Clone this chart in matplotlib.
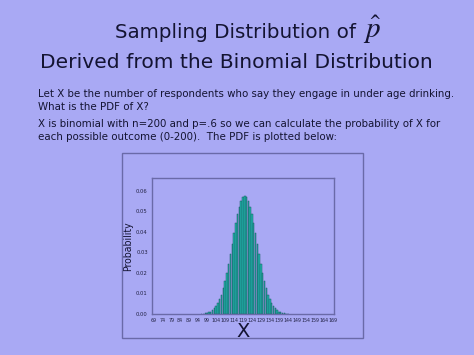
import matplotlib
matplotlib.use("Agg")
import matplotlib.pyplot as plt
from matplotlib.patches import Rectangle

plt.rcParams["mathtext.fontset"] = "stix"

# Data: P(X = x) for X ~ Binomial(200, 0.6)
x_start = 96
probs = [0.0001, 0.0002, 0.0003, 0.0005, 0.0008, 0.0012, 0.0018, 0.0027, 0.0037,
         0.0052, 0.0071, 0.0095, 0.0125, 0.0159, 0.0199, 0.0244, 0.0292, 0.0343,
         0.0394, 0.0443, 0.0487, 0.0524, 0.0552, 0.0569, 0.0575, 0.0569, 0.0552,
         0.0524, 0.0487, 0.0443, 0.0394, 0.0343, 0.0292, 0.0244, 0.0199, 0.0159,
         0.0125, 0.0095, 0.0071, 0.0052, 0.0037, 0.0027, 0.0018, 0.0012, 0.0008,
         0.0005, 0.0003, 0.0002, 0.0001]
xs = list(range(x_start, x_start + len(probs)))
xtick_labels = list(range(69, 170, 5))
ytick_values = [0.00, 0.01, 0.02, 0.03, 0.04, 0.05, 0.06]

bg = "#a9a9f4"
text_col = "#141432"

W, H = 474, 355
fig = plt.figure(figsize=(W / 100, H / 100), dpi=100)
fig.patch.set_facecolor(bg)

def fx(px):
    return px / W

def fy(py):
    return 1 - py / H

# Titles
fig.text(fx(115), fy(38), "Sampling Distribution of", fontsize=14.3,
         color=text_col, ha="left", va="baseline", family="DejaVu Sans")
fig.text(fx(363), fy(38), r"$\hat{p}$", fontsize=21,
         color=text_col, ha="left", va="baseline")
fig.text(fx(40), fy(68), "Derived from the Binomial Distribution", fontsize=14.6,
         color=text_col, ha="left", va="baseline", family="DejaVu Sans")

# Body text
body = [
    (97, "Let X be the number of respondents who say they engage in under age drinking."),
    (110, "What is the PDF of X?"),
    (127, "X is binomial with n=200 and p=.6 so we can calculate the probability of X for"),
    (140, "each possible outcome (0-200).  The PDF is plotted below:"),
]
for py, s in body:
    fig.text(fx(38), fy(py), s, fontsize=7.4, color=text_col, ha="left",
             va="baseline", family="DejaVu Sans")

# Outer frame
fig.patches.append(Rectangle((fx(122), fy(338)), fx(363) - fx(122), fy(153) - fy(338),
                             transform=fig.transFigure, fill=False,
                             edgecolor="#6a6aa8", linewidth=1.0))

# Inner axes
ax = fig.add_axes([fx(152), fy(314), fx(334) - fx(152), fy(178) - fy(314)])
ax.set_facecolor("none")
ax.bar(xs, probs, width=0.8, color="#1fb5ac", edgecolor="#1a5a60", linewidth=0.35)
ax.set_xlim(68.3, 169.7)
ax.set_ylim(0, 0.0663)
ax.set_xticks(xtick_labels)
ax.set_xticklabels([str(v) for v in xtick_labels], fontsize=3.9, color="#222244",
                   fontstretch="condensed")
ax.set_yticks(ytick_values)
ax.set_yticklabels(["%.2f" % v for v in ytick_values], fontsize=4.2, color="#222244",
                   fontstretch="condensed")
ax.tick_params(length=0, pad=3)
for sp in ax.spines.values():
    sp.set_color("#6a6aa8")
    sp.set_linewidth(1.0)
ax.set_ylabel("Probability", fontsize=7.5, color="#141432", labelpad=2,
              fontstretch="condensed")
ax.set_xlabel("X", fontsize=14, color="#141432", labelpad=-1)

fig.savefig("out.png", dpi=100, facecolor=bg)
